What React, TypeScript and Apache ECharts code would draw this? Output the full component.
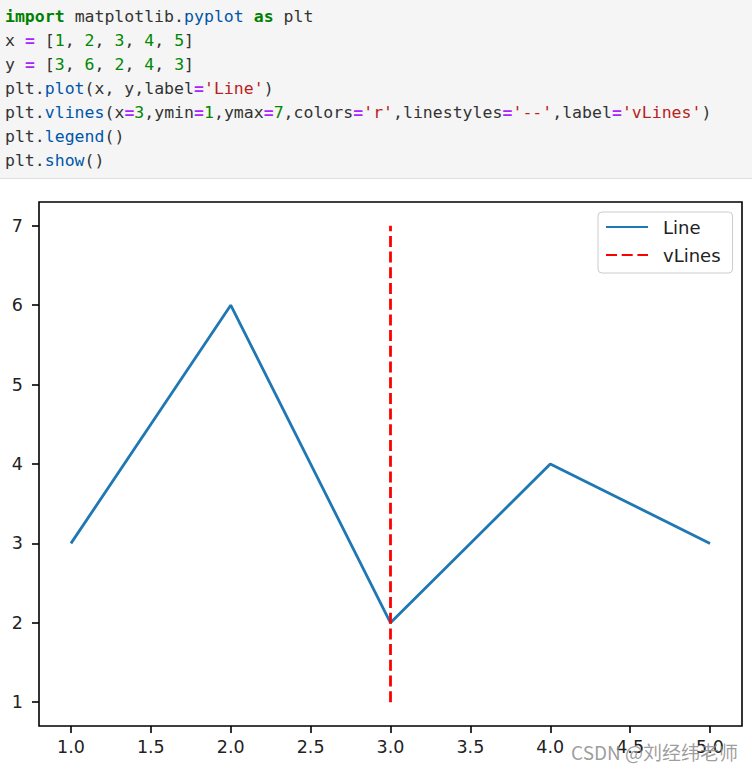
import React, { useEffect, useRef } from "react";
import * as echarts from "echarts";

// ---- data ----
const xValues = [1, 2, 3, 4, 5];
const yValues = [3, 6, 2, 4, 3];
const vlineX = 3;
const vlineYMin = 1;
const vlineYMax = 7;
const xRange = [0.8, 5.2];
const yRange = [0.7, 7.3];
const xTickRange = [1, 5];
const yTickRange = [1, 7];
const xTickStep = 0.5;
const yTickStep = 1;
const seriesNames = ["Line", "vLines"];
const watermark = "CSDN @刘经纬老师";

type Tok = [string, string];
const codeLines: Tok[][] = [
  [["kw", "import"], ["t", " matplotlib."], ["fn", "pyplot"], ["t", " "], ["kw", "as"], ["t", " plt"]],
  [["t", "x "], ["op", "="], ["t", " ["], ["num", "1"], ["t", ", "], ["num", "2"], ["t", ", "], ["num", "3"], ["t", ", "], ["num", "4"], ["t", ", "], ["num", "5"], ["t", "]"]],
  [["t", "y "], ["op", "="], ["t", " ["], ["num", "3"], ["t", ", "], ["num", "6"], ["t", ", "], ["num", "2"], ["t", ", "], ["num", "4"], ["t", ", "], ["num", "3"], ["t", "]"]],
  [["t", "plt."], ["fn", "plot"], ["t", "(x, y,label"], ["op", "="], ["str", "'Line'"], ["t", ")"]],
  [["t", "plt."], ["fn", "vlines"], ["t", "(x"], ["op", "="], ["num", "3"], ["t", ",ymin"], ["op", "="], ["num", "1"], ["t", ",ymax"], ["op", "="], ["num", "7"], ["t", ",colors"], ["op", "="], ["str", "'r'"], ["t", ",linestyles"], ["op", "="], ["str", "'--'"], ["t", ",label"], ["op", "="], ["str", "'vLines'"], ["t", ")"]],
  [["t", "plt."], ["fn", "legend"], ["t", "()"]],
  [["t", "plt."], ["fn", "show"], ["t", "()"]],
];

const tokStyle: Record<string, { fill: string; fontWeight: string }> = {
  kw: { fill: "#008000", fontWeight: "bold" },
  op: { fill: "#aa22ff", fontWeight: "bold" },
  num: { fill: "#008800", fontWeight: "normal" },
  str: { fill: "#ba2121", fontWeight: "normal" },
  fn: { fill: "#0055aa", fontWeight: "normal" },
  t: { fill: "#333333", fontWeight: "normal" },
};

const W = 752;
const H = 773;

export default function App() {
  const ref = useRef<HTMLDivElement>(null);
  useEffect(() => {
    if (!ref.current) return;
    const chart = echarts.init(ref.current, undefined, { renderer: "svg" });

    // axes box layout
    const boxL = 39, boxR = 742, boxT = 202, boxB = 726;
    const pxX = (boxR - boxL) / (xRange[1] - xRange[0]);
    const pxY = (boxB - boxT) / (yRange[1] - yRange[0]);
    const innerL = boxL + (xTickRange[0] - xRange[0]) * pxX;
    const innerR = boxR - (xRange[1] - xTickRange[1]) * pxX;
    const innerT = boxT + (yRange[1] - yTickRange[1]) * pxY;
    const innerB = boxB - (yTickRange[0] - yRange[0]) * pxY;

    // code text graphics
    const charW = 9.95;
    const codeFont = "'DejaVu Sans Mono', 'Liberation Mono', monospace";
    const codeGraphics: any[] = [
      { type: "rect", shape: { x: 0, y: 0, width: W, height: 178 }, style: { fill: "#f5f5f5" }, z: 0 },
      { type: "line", shape: { x1: 0, y1: 178.5, x2: W, y2: 178.5 }, style: { stroke: "#e0e0e0", lineWidth: 1 }, z: 1 },
    ];
    codeLines.forEach((line, li) => {
      let col = 0;
      line.forEach(([k, txt]) => {
        const st = tokStyle[k];
        codeGraphics.push({
          type: "text",
          x: 5 + col * charW,
          y: 16 + li * 24,
          z: 2,
          style: {
            text: txt,
            fill: st.fill,
            font: `${st.fontWeight} 16.5px ${codeFont}`,
            textVerticalAlign: "middle",
            verticalAlign: "middle",
          },
        });
        col += txt.length;
      });
    });

    const labelFont = "'DejaVu Sans', sans-serif";

    chart.setOption({
      animation: false,
      backgroundColor: "#ffffff",
      grid: [
        {
          left: boxL, top: boxT, width: boxR - boxL, height: boxB - boxT,
          show: true, borderColor: "#000000", borderWidth: 1.6, backgroundColor: "transparent",
          containLabel: false,
        },
        {
          left: innerL, top: innerT, width: innerR - innerL, height: innerB - innerT,
          show: false, containLabel: false,
        },
      ],
      xAxis: [
        { type: "value", gridIndex: 0, min: xRange[0], max: xRange[1], show: false, splitLine: { show: false } },
        {
          type: "value", gridIndex: 1, min: xTickRange[0], max: xTickRange[1], interval: xTickStep,
          position: "bottom", offset: boxB - innerB,
          axisLine: { show: false },
          axisTick: { show: true, length: 7, lineStyle: { color: "#000", width: 1.6 } },
          splitLine: { show: false },
          axisLabel: {
            show: true, margin: 12, color: "#222", fontSize: 17.5, fontFamily: labelFont,
            formatter: (v: number) => v.toFixed(1),
            showMinLabel: true, showMaxLabel: true,
          },
        },
      ],
      yAxis: [
        { type: "value", gridIndex: 0, min: yRange[0], max: yRange[1], show: false, splitLine: { show: false } },
        {
          type: "value", gridIndex: 1, min: yTickRange[0], max: yTickRange[1], interval: yTickStep,
          position: "left", offset: innerL - boxL,
          axisLine: { show: false },
          axisTick: { show: true, length: 7, lineStyle: { color: "#000", width: 1.6 } },
          splitLine: { show: false },
          axisLabel: {
            show: true, margin: 16, color: "#222", fontSize: 17.5, fontFamily: labelFont,
            formatter: (v: number) => String(v),
          },
        },
      ],
      legend: {
        orient: "vertical",
        left: 598, top: 212,
        data: seriesNames,
        itemWidth: 42, itemHeight: 20, itemGap: 10,
        padding: [6, 12, 9, 7],
        itemStyle: { opacity: 0 },
        backgroundColor: "rgba(255,255,255,0.8)",
        borderColor: "#cccccc", borderWidth: 1, borderRadius: 4,
        textStyle: { color: "#222", fontSize: 18, fontFamily: labelFont, padding: [0, 0, 0, 10] },
        selectedMode: false,
        z: 10,
      },
      series: [
        {
          name: seriesNames[0], type: "line", xAxisIndex: 0, yAxisIndex: 0,
          data: xValues.map((x, i) => [x, yValues[i]]),
          symbol: "none", lineStyle: { color: "#1f77b4", width: 2.8 }, itemStyle: { color: "#1f77b4" },
          z: 3,
        },
        {
          name: seriesNames[1], type: "line", xAxisIndex: 0, yAxisIndex: 0,
          data: [[vlineX, vlineYMin], [vlineX, vlineYMax]],
          symbol: "none", lineStyle: { color: "#ff0000", width: 2.8, type: [11, 4.7] }, itemStyle: { color: "#ff0000" },
          z: 4,
        },
      ],
      graphic: [
        ...codeGraphics,
        {
          type: "text", right: 14, top: 742, z: 20,
          style: {
            text: watermark, fill: "rgba(140,140,140,0.85)",
            font: "19px 'Noto Sans CJK SC', sans-serif",
          },
        },
      ],
    });
    return () => chart.dispose();
  }, []);
  return <div ref={ref} style={{ position: "fixed", left: 0, top: 0, width: W, height: H }} />;
}
